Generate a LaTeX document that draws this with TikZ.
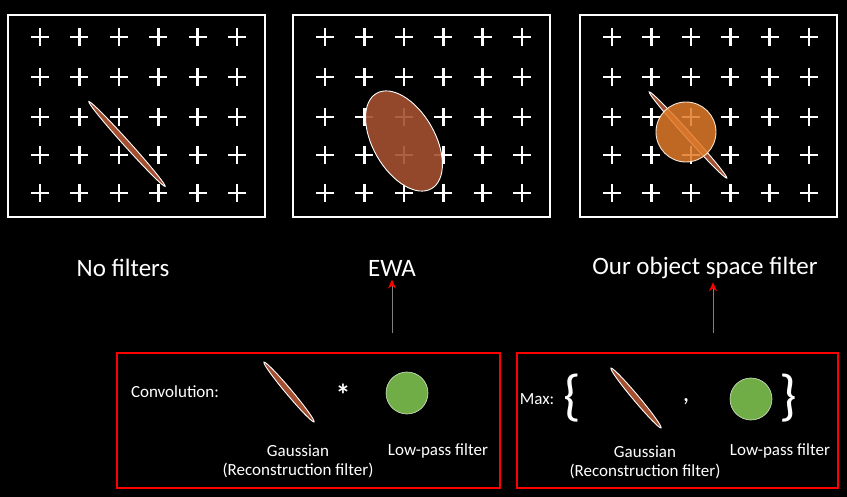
\documentclass[tikz,border=0pt]{standalone}
\usepackage{fontspec}
\setmainfont{Carlito}
\usetikzlibrary{arrows.meta}
\definecolor{gaussbrown}{HTML}{A34F30}
\definecolor{ourorange}{HTML}{E07B2A}
\definecolor{lowgreen}{HTML}{70AD47}
\tikzset{
  panel/.style={draw=white, line width=2.6pt},
  filterbox/.style={draw=red, line width=1.3pt},
  cross/.style={white, line width=2.6pt},
  splat/.style={draw=white, line width=0.9pt, fill=gaussbrown},
  caption/.style={text=white, font=\fontsize{25}{28}\selectfont},
  small/.style={text=white, font=\fontsize{17}{19}\selectfont, align=center},
}
\begin{document}
\begin{tikzpicture}[x=1pt, y=-1pt, >=Stealth]
\useasboundingbox[fill=black] (0,0) rectangle (847,497);

%------------------ GRIDS ------------------%
\foreach \ox in {0,285,572} {
  \draw[panel] (8+\ox,15) rectangle (265+\ox,217);
  \foreach \cx in {40,79.4,118.8,158.2,197.6,237} {
    \foreach \cy in {37,77,117,155,193} {
      \draw[cross] (\cx+\ox-9,\cy) -- (\cx+\ox+9,\cy);
      \draw[cross] (\cx+\ox,\cy-9) -- (\cx+\ox,\cy+9);
    }
  }
}

%------------------ SPLATS ------------------%
\draw[splat] (127,144) ellipse[x radius=57, y radius=3, rotate=-48];
\draw[splat, fill opacity=0.9] (404,141) ellipse[x radius=55, y radius=31, rotate=-60];
\draw[splat] (688,135) ellipse[x radius=58, y radius=3, rotate=-48];
\draw[draw=white!80!ourorange, line width=0.9pt, fill=ourorange, fill opacity=0.85] (686,132) circle (30);

%------------------ CAPTIONS ------------------%
\node[caption] (nofilt) at (123,268) {No filters};
\node[caption] (ewa) at (392,268) {EWA};
\node[caption] (ours) at (705,268) {Our object space filter};

\coordinate (ewaFoot) at (392,333);
\coordinate (oursFoot) at (713,333);
\draw[gray, line width=0.8pt, -{Stealth[red, length=9pt, width=8pt]}] (ewaFoot) -- (ewaFoot |- ewa.south);
\draw[gray, line width=0.8pt, -{Stealth[red, length=9pt, width=8pt]}] (oursFoot) -- (oursFoot |- ours.south);

%------------------ CONVOLUTION BOX ------------------%
\draw[filterbox] (117,353) rectangle (500,488);
\node[small] (conv) at (175,392) {Convolution:};
\draw[splat] (289,392) ellipse[x radius=39, y radius=3, rotate=-50];
\node[text=white, font=\fontsize{30}{30}\selectfont\bfseries] (star) at (343,395) {*};
\draw[draw=white!70!lowgreen, line width=0.6pt, fill=lowgreen] (407,393) circle (21);
\node[small] (gaussA) at (298,461) {Gaussian\\(Reconstruction filter)};
\node[small] (lowA) at (438,451) {Low-pass filter};

%------------------ MAX BOX ------------------%
\draw[filterbox] (517,353) rectangle (838,488);
\node[small] (maxlbl) at (537,399) {Max:};
\node[text=white, font=\fontsize{56}{58}\selectfont] (lbrace) at (572,398) {\{};
\draw[splat] (636,398) ellipse[x radius=39, y radius=3, rotate=-50];
\node[text=white, font=\fontsize{26}{28}\selectfont] (comma) at (686,402) {,};
\draw[draw=white!70!lowgreen, line width=0.6pt, fill=lowgreen] (751,399) circle (21);
\node[text=white, font=\fontsize{56}{58}\selectfont] (rbrace) at (788,398) {\}};
\node[small] (gaussB) at (645,462) {Gaussian\\(Reconstruction filter)};
\node[small] (lowB) at (780,451) {Low-pass filter};

\end{tikzpicture}
\end{document}
